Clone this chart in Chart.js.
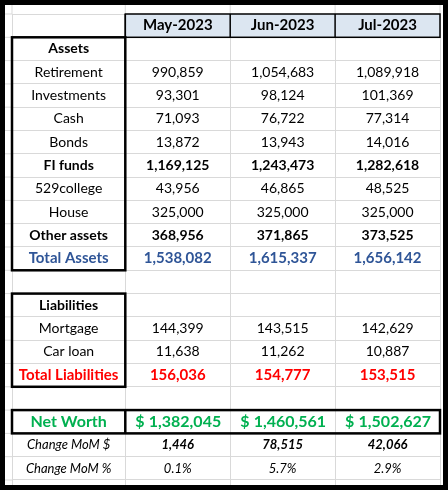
<!DOCTYPE html>
<html>
<head>
<meta charset="utf-8">
<script src="https://cdn.jsdelivr.net/npm/chart.js@4"></script>
<style>
  html, body { margin: 0; padding: 0; background: #fff; }
  #wrap { width: 448px; height: 490px; position: relative; }
</style>
</head>
<body>
<div id="wrap"><canvas id="sheet"></canvas></div>
<script>
// column headers and row contents, top to bottom
var months = ["May-2023", "Jun-2023", "Jul-2023"];
var rowLabels = ["", "Assets", "Retirement", "Investments", "Cash", "Bonds", "FI funds", "529college",
  "House", "Other assets", "Total Assets", "", "Liabilities", "Mortgage", "Car loan", "Total Liabilities",
  "", "Net Worth", "Change MoM $", "Change MoM %"];
var may = [null, null, 990859, 93301, 71093, 13872, 1169125, 43956, 325000, 368956, 1538082, null, null,
  144399, 11638, 156036, null, 1382045, 1446, 0.1];
var jun = [null, null, 1054683, 98124, 76722, 13943, 1243473, 46865, 325000, 371865, 1615337, null, null,
  143515, 11262, 154777, null, 1460561, 78515, 5.7];
var jul = [null, null, 1089918, 101369, 77314, 14016, 1282618, 48525, 325000, 373525, 1656142, null, null,
  142629, 10887, 153515, null, 1502627, 42066, 2.9];
// how each row is drawn
var rowKind = ["head", "bold", "", "", "", "", "bold", "", "", "bold", "assets", "", "bold", "", "", "liab",
  "", "net", "chg", "pct"];

var FONT = "Lato, 'Open Sans', sans-serif";
var LEFT = -0.08; // label column is a bit wider than the month columns
var columns = [may, jun, jul];

var datasets = columns.map(function (col, c) {
  return {
    label: months[c],
    data: col.map(function (v, r) { return { x: c + 1.5, y: r + 0.5, v: v }; }),
    pointRadius: 0
  };
});

function fmt(n) { return n.toLocaleString("en-US"); }

var tablePlugin = {
  id: "tablePlugin",
  afterDraw: function (chart) {
    var ctx = chart.ctx, xs = chart.scales.x, ys = chart.scales.y;
    var X = function (v) { return xs.getPixelForValue(v); };
    var Y = function (v) { return ys.getPixelForValue(v); };
    ctx.save();
    ctx.textBaseline = "middle";

    // header fill
    ctx.fillStyle = "#dce6f1";
    ctx.fillRect(X(1), Y(0), X(4) - X(1), Y(1) - Y(0));

    // light grid outside the chart area
    ctx.strokeStyle = "#d9d9d9";
    ctx.lineWidth = 1;
    [LEFT, 1, 2, 3, 4].forEach(function (v) {
      ctx.beginPath(); ctx.moveTo(X(v), 0); ctx.lineTo(X(v), Y(0)); ctx.stroke();
    });
    for (var r = 0; r <= 20; r++) {
      ctx.beginPath(); ctx.moveTo(0, Y(r)); ctx.lineTo(X(LEFT), Y(r)); ctx.stroke();
    }

    // texts
    var labX = (X(LEFT) + X(1)) / 2;
    rowLabels.forEach(function (lab, r) {
      var kind = rowKind[r], cy = Y(r + 0.5);
      if (kind === "head") {
        ctx.font = "bold 15px " + FONT;
        ctx.fillStyle = "#000";
        ctx.textAlign = "center";
        months.forEach(function (m, c) { ctx.fillText(m, X(c + 1.5), cy); });
        return;
      }
      var color = "#000", labFont = "14px " + FONT, valFont = "14px " + FONT;
      if (kind === "bold") { labFont = valFont = "bold 14px " + FONT; }
      if (kind === "assets") { color = "#2f5597"; labFont = valFont = "bold 15px " + FONT; }
      if (kind === "liab") { color = "#ff0000"; labFont = valFont = "bold 15px " + FONT; }
      if (kind === "net") { color = "#00b050"; labFont = "bold 16px " + FONT; valFont = "bold 16px " + FONT; }
      if (kind === "chg") { labFont = "italic 13px " + FONT; valFont = "italic bold 13px " + FONT; }
      if (kind === "pct") { labFont = "italic 13px " + FONT; valFont = "italic 13px " + FONT; }
      ctx.fillStyle = color;
      ctx.textAlign = "center";
      ctx.font = labFont;
      ctx.fillText(lab, labX, cy);
      ctx.font = valFont;
      chart.data.datasets.forEach(function (ds) {
        var p = ds.data[r];
        if (p.v === null) return;
        if (kind === "net") {
          ctx.textAlign = "left";
          ctx.fillText("$", X(p.x - 0.5) + 10, cy);
          ctx.textAlign = "right";
          ctx.fillText(fmt(p.v), X(p.x + 0.5) - 9, cy);
        } else {
          ctx.textAlign = "center";
          ctx.fillText(kind === "pct" ? p.v.toFixed(1) + "%" : fmt(p.v), X(p.x), cy);
        }
      });
    });

    // black boxes
    ctx.strokeStyle = "#000";
    ctx.lineWidth = 1.5;
    ctx.strokeRect(X(1), Y(0), X(4) - X(1), Y(1) - Y(0));
    [1, 2, 3].forEach(function (c) {
      ctx.beginPath(); ctx.moveTo(X(c), Y(0)); ctx.lineTo(X(c), Y(1)); ctx.stroke();
    });
    ctx.lineWidth = 2.5;
    ctx.strokeRect(X(LEFT), Y(1), X(1) - X(LEFT), Y(11) - Y(1));
    ctx.strokeRect(X(LEFT), Y(12), X(1) - X(LEFT), Y(16) - Y(12));
    ctx.strokeRect(X(LEFT), Y(17), X(4) - X(LEFT), Y(18) - Y(17));
    ctx.beginPath(); ctx.moveTo(X(1), Y(17)); ctx.lineTo(X(1), Y(18)); ctx.stroke();

    // outer frame
    ctx.lineWidth = 10;
    ctx.strokeRect(0, 0, chart.width, chart.height);
    ctx.restore();
  }
};

new Chart(document.getElementById("sheet"), {
  type: "scatter",
  data: { datasets: datasets },
  options: {
    responsive: true,
    maintainAspectRatio: false,
    animation: false,
    layout: { padding: { left: 12, right: 8, top: 14, bottom: 0 } },
    plugins: { legend: { display: false }, tooltip: { enabled: false } },
    scales: {
      x: {
        type: "linear", min: LEFT, max: 4,
        afterBuildTicks: function (s) { s.ticks = [LEFT, 1, 2, 3, 4].map(function (v) { return { value: v }; }); },
        grid: { color: "#d9d9d9", drawTicks: false },
        border: { display: false },
        ticks: { display: false }
      },
      y: {
        type: "linear", min: 0, max: 20.43, reverse: true,
        afterBuildTicks: function (s) {
          var t = []; for (var i = 0; i <= 20; i++) t.push({ value: i }); s.ticks = t;
        },
        grid: { color: "#d9d9d9", drawTicks: false },
        border: { display: false },
        ticks: { display: false }
      }
    }
  },
  plugins: [tablePlugin]
});
</script>
</body>
</html>
